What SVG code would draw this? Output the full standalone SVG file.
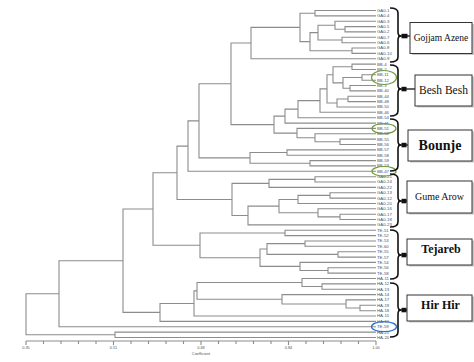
<svg xmlns="http://www.w3.org/2000/svg" width="474" height="362" viewBox="0 0 474 362">
<style>
.t{fill:none;stroke:#8c8c8c;stroke-width:1.1}
.lf{font-family:"Liberation Sans",Arial,sans-serif;font-size:4.3px;fill:#4a5068}
.ax{font-family:"Liberation Sans",Arial,sans-serif;font-size:3.9px;fill:#555;text-anchor:middle}
.br{fill:none;stroke:#111;stroke-width:1.6}
.cn{stroke:#111;stroke-width:1.3}
.bx{fill:#fff;stroke:#333;stroke-width:1}
.sh{fill:#c8c8c8}
.lb{font-family:"Liberation Serif","Times New Roman",serif;fill:#111;text-anchor:middle}
.ge{fill:none;stroke:#6f9a3c;stroke-width:1.2}
.be{fill:none;stroke:#2f72c9;stroke-width:1.3}
</style>
<rect width="474" height="362" fill="#fff"/>
<g id="connectors" class="t">
<path d="M376 10.5H315V15.9H376"/>
<path d="M376 26.6H345V31.9H376"/>
<path d="M376 21.2H335V29.25H345"/>
<path d="M376 37.3H342V42.7H376"/>
<path d="M335 25.2H318V40H342"/>
<path d="M376 48H352V53.4H376"/>
<path d="M318 32.6H310V50.7H352"/>
<path d="M315 13.2H300V41.65H310"/>
<path d="M300 27.4H251V58.7H376"/>
<path d="M376 64.1H352V69.5H376"/>
<path d="M376 74.8H362V80.2H376"/>
<path d="M376 85.5H350V90.9H376"/>
<path d="M362 77.5H343V88.2H350"/>
<path d="M352 66.8H333V82.85H343"/>
<path d="M376 96.3H348V101.6H376"/>
<path d="M348 98.95H337V107H376"/>
<path d="M333 74.8H327V102.98H337"/>
<path d="M327 88.9H320V112.3H376"/>
<path d="M320 100.6H298V117.7H376"/>
<path d="M298 109.15H285V123.1H376"/>
<path d="M376 139.1H340V144.5H376"/>
<path d="M376 133.8H315V141.8H340"/>
<path d="M376 128.4H297V137.8H315"/>
<path d="M285 116.1H274V133.1H297"/>
<path d="M251 43.05H231V124.6H274"/>
<path d="M376 149.9H287V155.2H376"/>
<path d="M376 160.6H310V165.9H376"/>
<path d="M287 152.55H250V163.25H310"/>
<path d="M231 83.8H199V157.9H250"/>
<path d="M199 120.85H188V171.3H376"/>
<path d="M376 176.7H315V182H376"/>
<path d="M315 179.35H269V187.4H376"/>
<path d="M376 192.7H330V198.1H376"/>
<path d="M330 195.4H298V203.5H376"/>
<path d="M376 214.2H340V219.5H376"/>
<path d="M376 208.8H318V216.85H340"/>
<path d="M298 199.45H279V212.8H318"/>
<path d="M279 206.1H248V224.9H376"/>
<path d="M269 183.4H232V215.5H248"/>
<path d="M188 146.1H177V199.45H232"/>
<path d="M376 230.3H285V235.6H376"/>
<path d="M376 241H305V246.3H376"/>
<path d="M376 251.7H338V257.1H376"/>
<path d="M305 243.65H267V254.4H338"/>
<path d="M376 267.8H328V273.1H376"/>
<path d="M376 262.4H300V270.45H328"/>
<path d="M267 249H260V266.4H300"/>
<path d="M285 232.95H200V257.7H260"/>
<path d="M177 172.8H153V245.3H200"/>
<path d="M376 283.9H322V289.2H376"/>
<path d="M376 278.5H302V286.55H322"/>
<path d="M376 305.3H360V310.7H376"/>
<path d="M376 299.9H346V308H360"/>
<path d="M376 294.6H282V303.95H346"/>
<path d="M302 282.5H197V299.3H282"/>
<path d="M197 290.9H194V316H376"/>
<path d="M194 303.45H160V321.4H376"/>
<path d="M153 209.05H123V312.4H160"/>
<path d="M123 260.7H59V326.7H376"/>
<path d="M376 332.1H115V337.5H376"/>
<path d="M59 293.7H26V334.8H115"/>
</g>
<g id="axis">
<path class="t" d="M26 341H376M26 341v4M43.5 341v3M61 341v3M78.5 341v3M96 341v3M113.5 341v4M131 341v3M148.5 341v3M166 341v3M183.5 341v3M201 341v4M218.5 341v3M236 341v3M253.5 341v3M271 341v3M288.5 341v4M306 341v3M323.5 341v3M341 341v3M358.5 341v3M376 341v4"/>
<text class="ax" x="26" y="349">0.35</text>
<text class="ax" x="113.5" y="349">0.51</text>
<text class="ax" x="201" y="349">0.68</text>
<text class="ax" x="288.5" y="349">0.84</text>
<text class="ax" x="376" y="349">1.00</text>
<text class="ax" x="201" y="355">Coefficient</text>
</g>
<g id="leaves" class="lf">
<g id="leaf-0"><text x="377" y="11.9">GA0-1</text></g>
<g id="leaf-1"><text x="377" y="17.3">GA0-4</text></g>
<g id="leaf-2"><text x="377" y="22.6">GA0-3</text></g>
<g id="leaf-3"><text x="377" y="28">GA0-5</text></g>
<g id="leaf-4"><text x="377" y="33.3">GA0-2</text></g>
<g id="leaf-5"><text x="377" y="38.7">GA0-7</text></g>
<g id="leaf-6"><text x="377" y="44.1">GA0-6</text></g>
<g id="leaf-7"><text x="377" y="49.4">GA0-8</text></g>
<g id="leaf-8"><text x="377" y="54.8">GA0-10</text></g>
<g id="leaf-9"><text x="377" y="60.1">GA0-9</text></g>
<g id="leaf-10"><text x="377" y="65.5">BB-4</text></g>
<g id="leaf-11"><text x="377" y="70.9">BB-2</text></g>
<g id="leaf-12"><text x="377" y="76.2">BB-11</text></g>
<g id="leaf-13"><text x="377" y="81.6">BB-12</text></g>
<g id="leaf-14"><text x="377" y="86.9">BB-3</text></g>
<g id="leaf-15"><text x="377" y="92.3">BB-40</text></g>
<g id="leaf-16"><text x="377" y="97.7">BB-44</text></g>
<g id="leaf-17"><text x="377" y="103">BB-48</text></g>
<g id="leaf-18"><text x="377" y="108.4">BB-50</text></g>
<g id="leaf-19"><text x="377" y="113.7">BB-46</text></g>
<g id="leaf-20"><text x="377" y="119.1">BB-54</text></g>
<g id="leaf-21"><text x="377" y="124.5">BB-41</text></g>
<g id="leaf-22"><text x="377" y="129.8">BB-51</text></g>
<g id="leaf-23"><text x="377" y="135.2">BB-52</text></g>
<g id="leaf-24"><text x="377" y="140.5">BB-55</text></g>
<g id="leaf-25"><text x="377" y="145.9">BB-56</text></g>
<g id="leaf-26"><text x="377" y="151.3">BB-57</text></g>
<g id="leaf-27"><text x="377" y="156.6">BB-58</text></g>
<g id="leaf-28"><text x="377" y="162">BB-59</text></g>
<g id="leaf-29"><text x="377" y="167.3">BB-53</text></g>
<g id="leaf-30"><text x="377" y="172.7">BB-47</text></g>
<g id="leaf-31"><text x="377" y="178.1">GA0-21</text></g>
<g id="leaf-32"><text x="377" y="183.4">GA0-24</text></g>
<g id="leaf-33"><text x="377" y="188.8">GA0-22</text></g>
<g id="leaf-34"><text x="377" y="194.1">GA0-13</text></g>
<g id="leaf-35"><text x="377" y="199.5">GA0-12</text></g>
<g id="leaf-36"><text x="377" y="204.9">GA0-20</text></g>
<g id="leaf-37"><text x="377" y="210.2">GA0-16</text></g>
<g id="leaf-38"><text x="377" y="215.6">GA0-17</text></g>
<g id="leaf-39"><text x="377" y="220.9">GA0-18</text></g>
<g id="leaf-40"><text x="377" y="226.3">GA0-23</text></g>
<g id="leaf-41"><text x="377" y="231.7">TE-51</text></g>
<g id="leaf-42"><text x="377" y="237">TE-52</text></g>
<g id="leaf-43"><text x="377" y="242.4">TE-53</text></g>
<g id="leaf-44"><text x="377" y="247.7">TE-60</text></g>
<g id="leaf-45"><text x="377" y="253.1">TE-55</text></g>
<g id="leaf-46"><text x="377" y="258.5">TE-57</text></g>
<g id="leaf-47"><text x="377" y="263.8">TE-54</text></g>
<g id="leaf-48"><text x="377" y="269.2">TE-56</text></g>
<g id="leaf-49"><text x="377" y="274.5">TE-58</text></g>
<g id="leaf-50"><text x="377" y="279.9">HA-11</text></g>
<g id="leaf-51"><text x="377" y="285.3">HA-12</text></g>
<g id="leaf-52"><text x="377" y="290.6">HA-13</text></g>
<g id="leaf-53"><text x="377" y="296">HA-14</text></g>
<g id="leaf-54"><text x="377" y="301.3">HA-17</text></g>
<g id="leaf-55"><text x="377" y="306.7">HA-19</text></g>
<g id="leaf-56"><text x="377" y="312.1">HA-18</text></g>
<g id="leaf-57"><text x="377" y="317.4">HA-15</text></g>
<g id="leaf-58"><text x="377" y="322.8">HA-16</text></g>
<g id="leaf-59"><text x="377" y="328.1">TE-59</text></g>
<g id="leaf-60"><text x="377" y="333.5">HA-21</text></g>
<g id="leaf-61"><text x="377" y="338.9">HA-20</text></g>
</g>
<g id="highlights">
<ellipse class="ge" cx="384" cy="77.5" rx="12.5" ry="7"/>
<ellipse class="ge" cx="384" cy="128.6" rx="12" ry="5"/>
<ellipse class="ge" cx="384" cy="171.3" rx="12" ry="4.8"/>
<ellipse class="be" cx="384" cy="326.7" rx="12.5" ry="5"/>
</g>
<g id="group-gojjam">
<path class="br" d="M390 8Q398 8 398 13V32Q398 36 401 36Q398 36 398 40V57Q398 62 390 62"/>
<line class="cn" x1="398" y1="36" x2="410" y2="36"/><rect x="401.5" y="33.8" width="6" height="4.5" fill="#111"/>
<rect class="sh" x="412" y="24" width="62" height="31"/>
<rect class="bx" x="410" y="22.5" width="62" height="31"/>
<text class="lb" x="441" y="41" font-size="9.5">Gojjam Azene</text>
</g>
<g id="group-beshbesh">
<path class="br" d="M390 65Q398 65 398 70V85Q398 89 401 89Q398 89 398 93V111Q398 116 390 116"/>
<line class="cn" x1="398" y1="89" x2="415" y2="89"/><rect x="401.5" y="86.8" width="5" height="4.5" fill="#111"/>
<rect class="sh" x="417" y="76.5" width="57" height="31"/>
<rect class="bx" x="415" y="75" width="57" height="31"/>
<text class="lb" x="443.5" y="94" font-size="11.5">Besh Besh</text>
</g>
<g id="group-bounje">
<path class="br" d="M390 119Q398 119 398 124V141Q398 145 401 145Q398 145 398 149V166Q398 171 390 171"/>
<line class="cn" x1="398" y1="145" x2="408" y2="145"/><rect x="401.5" y="142.8" width="5" height="4.5" fill="#111"/>
<rect class="sh" x="410" y="131.5" width="64" height="31"/>
<rect class="bx" x="408" y="130" width="64" height="31"/>
<text class="lb" x="440" y="150" font-size="14" font-weight="bold">Bounje</text>
</g>
<g id="group-gumearow">
<path class="br" d="M390 174Q398 174 398 179V197Q398 201 401 201Q398 201 398 205V222Q398 227 390 227"/>
<line class="cn" x1="398" y1="201" x2="407" y2="201"/><rect x="401.5" y="198.8" width="5" height="4.5" fill="#111"/>
<rect class="sh" x="409" y="182.5" width="65" height="32"/>
<rect class="bx" x="407" y="181" width="65" height="32"/>
<text class="lb" x="439.5" y="199.5" font-size="10">Gume Arow</text>
</g>
<g id="group-tejareb">
<path class="br" d="M390 230Q398 230 398 235V251Q398 255 401 255Q398 255 398 259V274Q398 279 390 279"/>
<line class="cn" x1="398" y1="255" x2="407" y2="255"/><rect x="401.5" y="252.8" width="5" height="4.5" fill="#111"/>
<rect class="sh" x="409" y="240.5" width="65" height="26"/>
<rect class="bx" x="407" y="239" width="65" height="26"/>
<text class="lb" x="441" y="253" font-size="12" font-weight="bold">Tejareb</text>
</g>
<g id="group-hirhir">
<path class="br" d="M390 283Q398 283 398 288V306Q398 310 401 310Q398 310 398 314V332Q398 337 390 337"/>
<line class="cn" x1="398" y1="310" x2="407" y2="310"/><rect x="401.5" y="307.8" width="5" height="4.5" fill="#111"/>
<rect class="sh" x="409" y="296.5" width="65" height="26"/>
<rect class="bx" x="407" y="295" width="65" height="26"/>
<text class="lb" x="440.5" y="308.5" font-size="12" font-weight="bold">Hir Hir</text>
</g>
</svg>
